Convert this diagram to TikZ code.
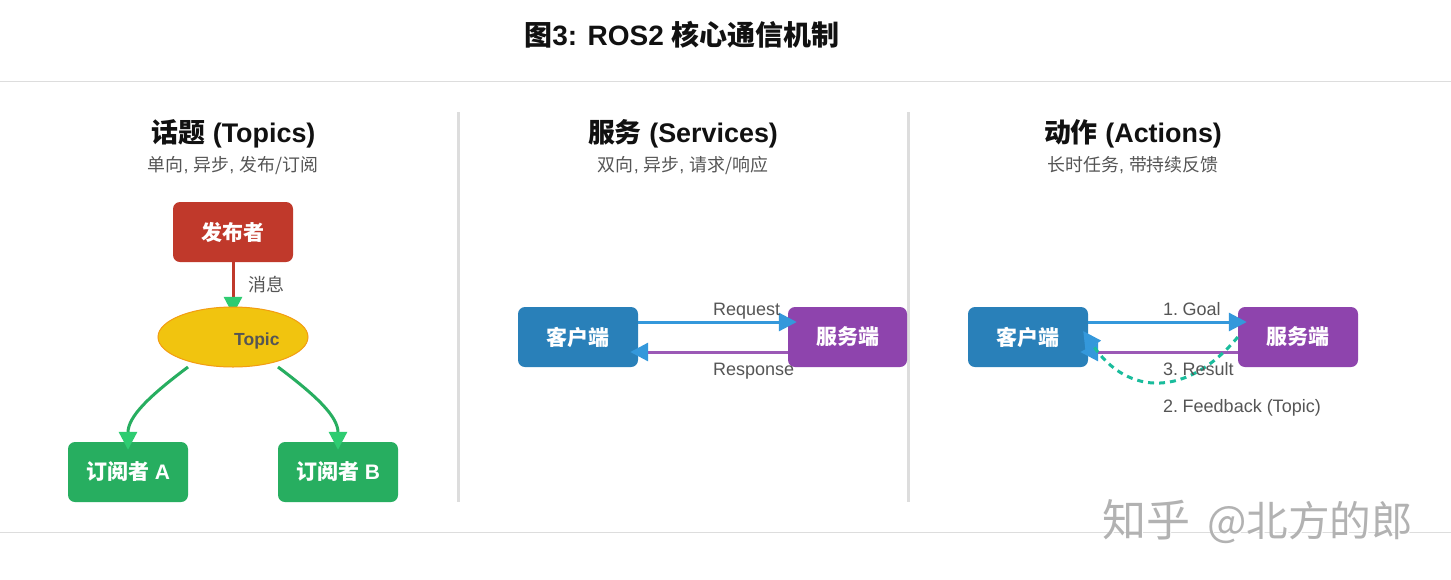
\documentclass[tikz,border=0pt]{standalone}
\usepackage{fontspec}
\setmainfont{Liberation Sans}
\newfontfamily\cjk{Noto Sans CJK SC}
\usetikzlibrary{arrows.meta,shapes.geometric}
\definecolor{cred}{HTML}{C0392B}
\definecolor{cgreen}{HTML}{27AE60}
\definecolor{cgreenh}{HTML}{2ECC71}
\definecolor{cblue}{HTML}{2980B9}
\definecolor{cblueh}{HTML}{3498DB}
\definecolor{cpurple}{HTML}{8E44AD}
\definecolor{cpurplel}{HTML}{9B59B6}
\definecolor{cteal}{HTML}{1ABC9C}
\definecolor{cgrey}{HTML}{555555}
\definecolor{crule}{HTML}{DDDDDD}
\definecolor{cink}{HTML}{111111}
\definecolor{cyellow}{HTML}{F1C40F}
\definecolor{corange}{HTML}{F39C12}
\newcommand{\fsz}[1]{\fontsize{#1}{#1}\selectfont}
\tikzset{
  box/.style={minimum width=120pt,minimum height=60pt,inner sep=0pt,rounded corners=7pt,text=white,font=\fsz{21}\bfseries},
  head/.style={text=cink,font=\fsz{26.9}\bfseries,inner sep=0pt,anchor=base},
  sub/.style={text=cgrey,font=\fsz{17.9},inner sep=0pt,anchor=base},
  lab/.style={text=cgrey,font=\fsz{18},inner sep=0pt,anchor=base west},
  link/.style={line width=3pt},
  tipg/.style={-{Triangle[length=18pt,width=18pt,color=cgreenh]}},
  tipb/.style={-{Triangle[length=18pt,width=18pt,color=cblueh]}},
  divider/.style={draw=crule,line width=3pt},
  hair/.style={draw=crule,line width=1pt},
  topicshape/.style={ellipse,minimum width=150pt,minimum height=60pt,inner sep=0pt}
}
\newcommand{\wmtext}{{\fsz{44}知乎}\hspace{17pt}{\fsz{41.6}@北方的郎}}
\begin{document}
\begin{tikzpicture}[x=1pt,y=-1pt]
\useasboundingbox (0,0) rectangle (1451,579);
\fill[white] (0,0) rectangle (1451,579);
\coordinate (ruleAl) at (0,81);
\coordinate (ruleAr) at (1451,81);
\coordinate (ruleBl) at (0,532);
\coordinate (ruleBr) at (1451,532);
\coordinate (divAt) at (458,112);
\coordinate (divAb) at (458,502);
\coordinate (divBt) at (908,112);
\coordinate (divBb) at (908,502);
\draw[hair] (ruleAl) -- (ruleAr);
\draw[hair] (ruleBl) -- (ruleBr);
\draw[divider] (divAt) -- (divAb);
\draw[divider] (divBt) -- (divBb);

\node[text=cink,font=\fsz{28}\bfseries,inner sep=0pt,anchor=base] (title) at (682,45) {{\cjk 图}3: ROS2 {\cjk 核心通信机制}};

\node[head] (h1) at (233.5,142) {{\cjk 话题} (Topics)};
\node[sub] (s1) at (233,171) {{\cjk 单向}, {\cjk 异步}, {\cjk 发布/订阅}};
\node[head] (h2) at (683,142) {{\cjk 服务} (Services)};
\node[sub] (s2) at (683,171) {{\cjk 双向}, {\cjk 异步}, {\cjk 请求/响应}};
\node[head] (h3) at (1133,142) {{\cjk 动作} (Actions)};
\node[sub] (s3) at (1133,171) {{\cjk 长时任务}, {\cjk 带持续反馈}};

% Topics
\node[box,fill=cred] (pub) at (233,232) {\cjk 发布者};
\node[box,fill=cgreen] (subA) at (128,472) {{\cjk 订阅者} A};
\node[box,fill=cgreen] (subB) at (338,472) {{\cjk 订阅者} B};
\node[topicshape] (topicref) at (233,337) {};
\draw[link,draw=cred,tipg,shorten >=-8pt] (pub.south) -- (topicref.north);
\node[topicshape,fill=cyellow,draw=corange,line width=1pt] (topic) at (233,337) {};
\node[lab,font=\fsz{17.5}\bfseries] (topiclab) at (234,345) {Topic};
\node[lab] (msg) at (248,291) {\cjk 消息};
\coordinate (fromA) at (188,367);
\coordinate (fromB) at (278,367);
\draw[link,draw=cgreen,tipg,shorten >=-8pt] (fromA) .. controls (148,397) and (128,417) .. (subA.north);
\draw[link,draw=cgreen,tipg,shorten >=-8pt] (fromB) .. controls (318,397) and (338,417) .. (subB.north);

% Services
\node[box,fill=cblue] (c1) at (578,337) {\cjk 客户端};
\node[box,fill=cpurple,minimum width=119pt] (v1) at (847.5,337) {\cjk 服务端};
\draw[link,draw=cblueh,tipb,shorten >=-9pt] ([yshift=15pt]c1.east) -- ([yshift=15pt]v1.west);
\draw[link,draw=cpurplel,tipb,shorten >=-8pt] ([yshift=-15pt]v1.west) -- ([yshift=-15pt]c1.east);
\node[lab] (req) at (713,315) {Request};
\node[lab] (resp) at (713,375) {Response};

% Actions
\node[box,fill=cblue] (c2) at (1028,337) {\cjk 客户端};
\node[box,fill=cpurple] (v2) at (1298,337) {\cjk 服务端};
\draw[link,draw=cblueh,tipb,shorten >=-9pt] ([yshift=15pt]c2.east) -- ([yshift=15pt]v2.west);
\draw[link,draw=cpurplel,tipb,shorten >=-8pt] ([yshift=-15pt]v2.west) -- ([yshift=-15pt]c2.east);
\draw[link,draw=cteal,dash pattern=on 6pt off 5pt,tipb] (v2.west) .. controls (1188,397) and (1128,397) .. ([shift={(-5pt,6pt)}]c2.east);
\node[lab] (goal) at (1163,315) {1.\hspace{4.5pt}Goal};
\node[lab] (res) at (1163,375) {3.\hspace{4.5pt}Result};
\node[lab] (fb) at (1163,412) {2.\hspace{4.5pt}Feedback (Topic)};

% Watermark
\node[text=white,font=\cjk,inner sep=0pt,anchor=base west] (wmw) at (1103.5,537.5) {\wmtext};
\node[text=black!30,font=\cjk,inner sep=0pt,anchor=base west] (wm) at (1102,536) {\wmtext};
\end{tikzpicture}
\end{document}
